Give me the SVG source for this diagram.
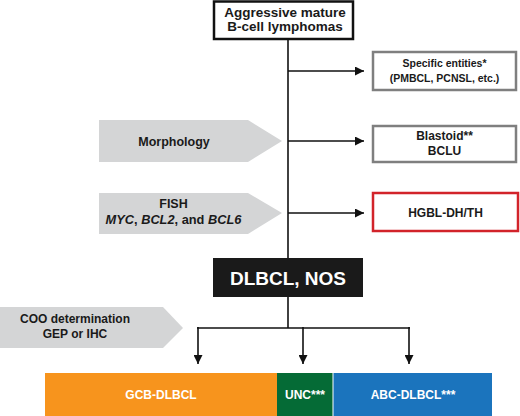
<svg xmlns="http://www.w3.org/2000/svg" width="520" height="416" viewBox="0 0 520 416">
<defs>
<marker id="ah" viewBox="0 0 10 10" refX="10" refY="5" markerWidth="9" markerHeight="9" markerUnits="userSpaceOnUse" orient="auto">
<path d="M0,0 L10,5 L0,10 z" fill="#111"/>
</marker>
<style>
text{font-family:"Liberation Sans",Arial,sans-serif;font-weight:bold;text-anchor:middle;fill:#1a1a1a}
.box{fill:#fff;stroke-width:2.5}
.gray{stroke:#7f7f7f}
.chev{fill:#d4d5d6}
.conn{stroke:#111;stroke-width:1.6;fill:none}
.w{fill:#fff}
</style>
</defs>
<g id="top">
<rect class="box" x="214" y="1.5" width="139" height="37.5" stroke="#111" stroke-width="2.5"/>
<text x="285" y="17" font-size="13.5">Aggressive mature</text>
<text x="285" y="31" font-size="13.5">B-cell lymphomas</text>
</g>
<g id="specific">
<rect class="box gray" x="373" y="52" width="143" height="38"/>
<text x="444.5" y="67" font-size="10.5">Specific entities*</text>
<text x="444.5" y="82" font-size="10.5">(PMBCL, PCNSL, etc.)</text>
</g>
<g id="blastoid">
<rect class="box gray" x="373" y="126" width="143" height="36"/>
<text x="444.5" y="140" font-size="12">Blastoid**</text>
<text x="444.5" y="155" font-size="12">BCLU</text>
</g>
<g id="hgbl">
<rect class="box" x="373" y="193" width="145" height="38" stroke="#d2232a"/>
<text x="445.5" y="217" font-size="12">HGBL-DH/TH</text>
</g>
<g id="morphology">
<polygon class="chev" points="99,120 248,120 282,141 248,162 99,162"/>
<text x="174" y="146" font-size="12.5">Morphology</text>
</g>
<g id="fish">
<polygon class="chev" points="99,193 248,193 282,213 248,234 99,234"/>
<text x="173.5" y="208" font-size="12.5">FISH</text>
<text x="173.5" y="224" font-size="12.8"><tspan font-style="italic">MYC</tspan>, <tspan font-style="italic">BCL2</tspan>, and <tspan font-style="italic">BCL6</tspan></text>
</g>
<g id="coo">
<polygon class="chev" points="0,307 163,307 183,328 163,348 0,348"/>
<text x="75" y="323" font-size="12">COO determination</text>
<text x="75" y="338" font-size="12">GEP or IHC</text>
</g>
<g id="dlbcl">
<rect x="213" y="258" width="150" height="39" fill="#1a1a1a"/>
<text class="w" x="288" y="285" font-size="19">DLBCL, NOS</text>
</g>
<g id="gcb">
<rect x="45" y="373" width="232" height="43" fill="#f7941d"/>
<text class="w" x="161" y="399" font-size="12">GCB-DLBCL</text>
</g>
<g id="unc">
<rect x="277" y="373" width="55.5" height="43" fill="#056b36"/>
<text class="w" x="305" y="399" font-size="12">UNC***</text>
</g>
<g id="abc">
<rect x="333.5" y="373" width="158.5" height="43" fill="#1b74bd"/>
<text class="w" x="413" y="399" font-size="12">ABC-DLBCL***</text>
</g>
<g id="connectors">
<line class="conn" x1="288" y1="40" x2="288" y2="258"/>
<line class="conn" x1="288" y1="71" x2="364" y2="71" marker-end="url(#ah)"/>
<line class="conn" x1="288" y1="141" x2="364" y2="141" marker-end="url(#ah)"/>
<line class="conn" x1="288" y1="213" x2="364" y2="213" marker-end="url(#ah)"/>
<line class="conn" x1="288" y1="297" x2="288" y2="328"/>
<line class="conn" x1="197" y1="328" x2="410" y2="328"/>
<line class="conn" x1="198" y1="327" x2="198" y2="364" marker-end="url(#ah)"/>
<line class="conn" x1="303" y1="327" x2="303" y2="364" marker-end="url(#ah)"/>
<line class="conn" x1="409" y1="327" x2="409" y2="364" marker-end="url(#ah)"/>
</g>
</svg>
